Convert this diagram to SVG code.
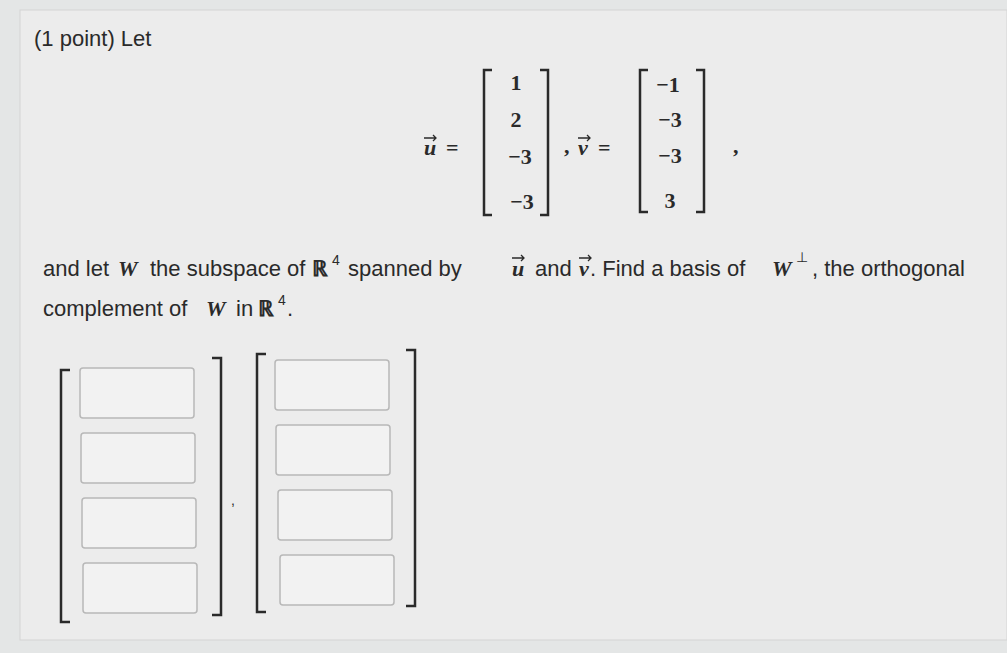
<svg xmlns="http://www.w3.org/2000/svg" width="1007" height="653" viewBox="0 0 1007 653">
<style>
.t{font-family:"Liberation Sans",Arial,sans-serif;font-size:22px;fill:#2a2a2a}
.s{font-family:"Liberation Sans",Arial,sans-serif;font-size:14px;fill:#2a2a2a}
.m{font-family:"Liberation Serif","DejaVu Serif",serif;font-size:22px;fill:#2a2a2a;font-weight:bold}
.i{font-style:italic}
.ar{fill:none;stroke:#2a2a2a;stroke-width:1.3}
.br{fill:none;stroke:#2a2a2a;stroke-width:2.5}
.box{fill:#f2f2f2;stroke:#b8b8b8;stroke-width:1.5}
</style>
<rect width="1007" height="653" fill="#e4e6e6"/>
<rect x="20" y="10" width="987" height="630" fill="#ececec" stroke="#d4d4d4"/>
<g id="title"><text class="t" x="34" y="46">(1 point) Let</text></g>
<g id="arrows">
<path class="ar" d="M424,138 H436 M433,135 L436,138 L433,141"/>
<path class="ar" d="M578,138 H590 M587,135 L590,138 L587,141"/>
<path class="ar" d="M512,258 H524 M521,255 L524,258 L521,261"/>
<path class="ar" d="M579,258 H591 M588,255 L591,258 L588,261"/>
</g>
<g id="u">
<text class="m i" x="424" y="155">u</text>
<text class="m" x="446" y="155" font-weight="normal">=</text>
<path class="br" d="M492,70 H484 V215 H492 M540,70 H548 V215 H540"/>
<text class="m" x="516" y="90" text-anchor="middle" font-weight="normal">1</text>
<text class="m" x="516" y="127" text-anchor="middle" font-weight="normal">2</text>
<text class="m" x="520" y="164" text-anchor="middle">−3</text>
<text class="m" x="522" y="209" text-anchor="middle">−3</text>
</g>
<g id="v">
<text class="m" x="564" y="153" font-weight="normal">,</text>
<text class="m i" x="578" y="155">v</text>
<text class="m" x="598" y="155" font-weight="normal">=</text>
<path class="br" d="M648,70 H640 V212 H648 M696,70 H704 V212 H696"/>
<text class="m" x="668" y="92" text-anchor="middle" font-weight="normal">−1</text>
<text class="m" x="670" y="127" text-anchor="middle">−3</text>
<text class="m" x="670" y="163" text-anchor="middle">−3</text>
<text class="m" x="670" y="208" text-anchor="middle">3</text>
<text class="m" x="733" y="153">,</text>
</g>
<g id="question">
<text class="t" x="43" y="276">and let</text>
<text class="m i" x="118" y="276">W</text>
<text class="t" x="150" y="276">the subspace of</text>
<text class="m" x="312" y="276">ℝ</text><text class="s" x="332" y="265">4</text>
<text class="t" x="348" y="276">spanned by</text>
<text class="m i" x="512" y="276">u</text>
<text class="t" x="535" y="276">and</text>
<text class="m i" x="579" y="276">v</text>
<text class="t" x="590" y="276">. Find a basis of</text>
<text class="m i" x="772" y="276">W</text><text class="s" x="796" y="262">⊥</text>
<text class="t" x="812" y="276">, the orthogonal</text>
<text class="t" x="43" y="316">complement of</text>
<text class="m i" x="206" y="316">W</text>
<text class="t" x="236" y="316">in</text>
<text class="m" x="258" y="316">ℝ</text><text class="s" x="278" y="305">4</text><text class="t" x="287" y="316">.</text>
</g>
<g id="answer1">
<path class="br" d="M70,370 H61 V622 H70 M212,358 H221 V615 H212"/>
<rect class="box" x="80" y="368" width="114" height="50" rx="3"/>
<rect class="box" x="81" y="433" width="114" height="50" rx="3"/>
<rect class="box" x="82" y="498" width="114" height="50" rx="3"/>
<rect class="box" x="83" y="563" width="114" height="50" rx="3"/>
</g>
<text class="s" x="231" y="505">,</text>
<g id="answer2">
<path class="br" d="M266,354 H257 V612 H266 M406,350 H415 V606 H406"/>
<rect class="box" x="275" y="360" width="114" height="50" rx="3"/>
<rect class="box" x="276" y="425" width="114" height="50" rx="3"/>
<rect class="box" x="278" y="490" width="114" height="50" rx="3"/>
<rect class="box" x="280" y="555" width="114" height="50" rx="3"/>
</g>
</svg>
